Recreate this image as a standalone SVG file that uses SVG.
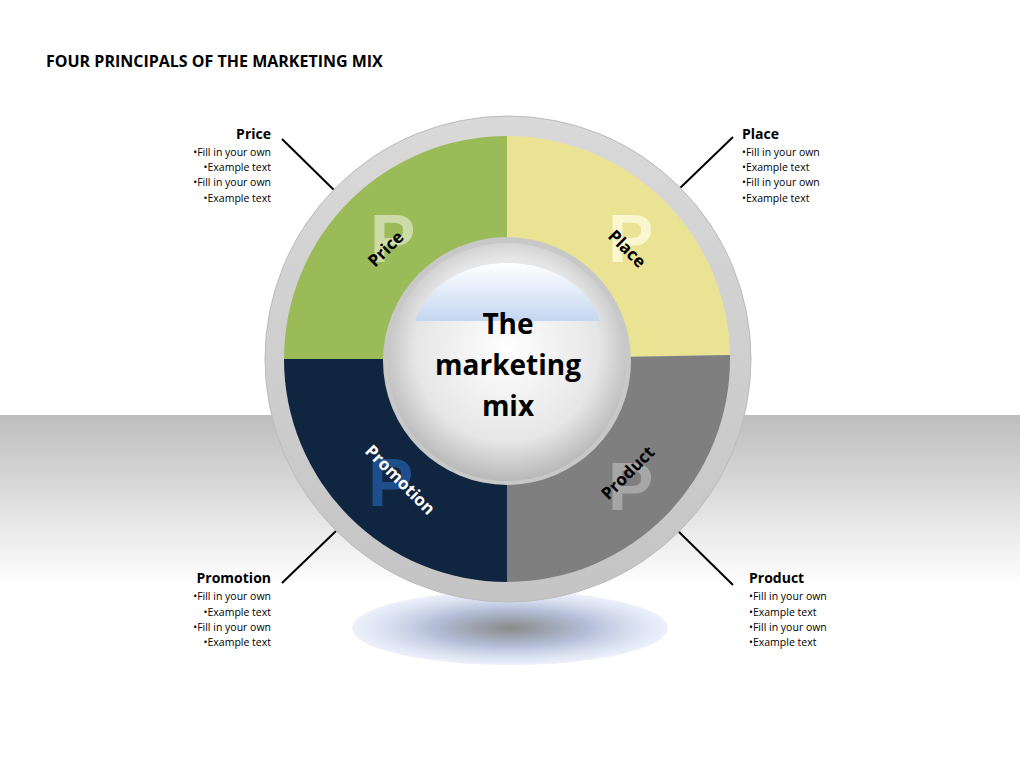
<svg xmlns="http://www.w3.org/2000/svg" width="1020" height="765" viewBox="0 0 1020 765">
<defs>
<linearGradient id="band" x1="0" y1="0" x2="0" y2="1"><stop offset="0" stop-color="#bdbdbd"/><stop offset="1" stop-color="#ffffff"/></linearGradient>
<radialGradient id="shadow"><stop offset="0" stop-color="#8a8a8a"/><stop offset="0.5" stop-color="#b4bfd8"/><stop offset="1" stop-color="#dfe7f8" stop-opacity="0.6"/></radialGradient>
<linearGradient id="ring" x1="0" y1="0" x2="0" y2="1"><stop offset="0" stop-color="#d9d9d9"/><stop offset="1" stop-color="#c4c4c4"/></linearGradient>
<radialGradient id="ball" cx="0.5" cy="0.45" r="0.55"><stop offset="0" stop-color="#ffffff"/><stop offset="0.7" stop-color="#e6e6e6"/><stop offset="1" stop-color="#b8b8b8"/></radialGradient>
<linearGradient id="hi" x1="0" y1="0" x2="0" y2="1"><stop offset="0" stop-color="#ffffff"/><stop offset="1" stop-color="#c4d6f0"/></linearGradient>
</defs>
<style>
.t{font-family:"Open Sans","Liberation Sans",sans-serif;fill:#000}
.h{font-size:14px;font-weight:bold}
.s{font-size:10.5px}
.ln{stroke:#000;stroke-width:2}
.P{font-family:"Liberation Sans",sans-serif;font-weight:bold;font-size:68px}
.q{font-family:"Open Sans","Liberation Sans",sans-serif;font-weight:bold;font-size:17px}
</style>
<rect width="1020" height="765" fill="#fff"/>
<rect x="0" y="415" width="1020" height="170" fill="url(#band)"/>
<ellipse cx="510" cy="628" rx="158" ry="37" fill="url(#shadow)"/>
<text class="t" x="46" y="67" font-size="16" font-weight="bold">FOUR PRINCIPALS OF THE MARKETING MIX</text>
<g id="connectors">
<line class="ln" x1="282" y1="139" x2="336" y2="192"/>
<line class="ln" x1="733" y1="137" x2="678" y2="190"/>
<line class="ln" x1="336" y1="531" x2="282" y2="583"/>
<line class="ln" x1="678" y1="531" x2="733" y2="585"/>
</g>
<g id="ring"><circle cx="508" cy="359" r="243" fill="url(#ring)" stroke="#bbb" stroke-width="1"/></g>
<g id="price"><path d="M507,359 L284,359 A223,223 0 0 1 507,136 Z" fill="#9bbb59"/>
<text class="P" x="370" y="262" fill="#d8e4bc" fill-opacity="0.8">P</text>
<text class="q" transform="translate(390,253) rotate(-45)" text-anchor="middle">Price</text></g>
<g id="place"><path d="M507,359 L507,136 A223,223 0 0 1 730,355 Z" fill="#ebe394"/>
<text class="P" x="608" y="262" fill="#fbf7d6" fill-opacity="0.9">P</text>
<text class="q" transform="translate(623,253) rotate(45)" text-anchor="middle">Place</text></g>
<g id="product"><path d="M507,359 L730,355 A223,223 0 0 1 507,582 Z" fill="#7f7f7f"/>
<text class="P" x="608" y="510" fill="#a6a6a6">P</text>
<text class="q" transform="translate(632,477) rotate(-45)" text-anchor="middle">Product</text></g>
<g id="promotion"><path d="M507,359 L507,582 A223,223 0 0 1 284,359 Z" fill="#10253f"/>
<text class="P" x="368" y="506" fill="#1f4e8c">P</text>
<text class="q" fill="#fff" transform="translate(396,484) rotate(45)" text-anchor="middle">Promotion</text></g>
<g id="center">
<circle cx="507" cy="361" r="124" fill="#c8c8c8"/>
<circle cx="507" cy="362" r="119" fill="url(#ball)"/>
<path d="M415,321 A95,75 0 0 1 600,321 Z" fill="url(#hi)"/>
<text class="t" x="508" y="334" font-size="28" font-weight="bold" text-anchor="middle">The</text>
<text class="t" x="508" y="375" font-size="28" font-weight="bold" text-anchor="middle">marketing</text>
<text class="t" x="508" y="416" font-size="28" font-weight="bold" text-anchor="middle">mix</text>
</g>
<g id="lbl-price" class="t" text-anchor="end">
<text class="h" x="271" y="139">Price</text>
<text class="s" x="271" y="156">•Fill in your own</text>
<text class="s" x="271" y="171">•Example text</text>
<text class="s" x="271" y="186">•Fill in your own</text>
<text class="s" x="271" y="202">•Example text</text>
</g>
<g id="lbl-place" class="t">
<text class="h" x="742" y="139">Place</text>
<text class="s" x="742" y="156">•Fill in your own</text>
<text class="s" x="742" y="171">•Example text</text>
<text class="s" x="742" y="186">•Fill in your own</text>
<text class="s" x="742" y="202">•Example text</text>
</g>
<g id="lbl-promotion" class="t" text-anchor="end">
<text class="h" x="271" y="583">Promotion</text>
<text class="s" x="271" y="600">•Fill in your own</text>
<text class="s" x="271" y="616">•Example text</text>
<text class="s" x="271" y="631">•Fill in your own</text>
<text class="s" x="271" y="646">•Example text</text>
</g>
<g id="lbl-product" class="t">
<text class="h" x="749" y="583">Product</text>
<text class="s" x="749" y="600">•Fill in your own</text>
<text class="s" x="749" y="616">•Example text</text>
<text class="s" x="749" y="631">•Fill in your own</text>
<text class="s" x="749" y="646">•Example text</text>
</g>
</svg>
